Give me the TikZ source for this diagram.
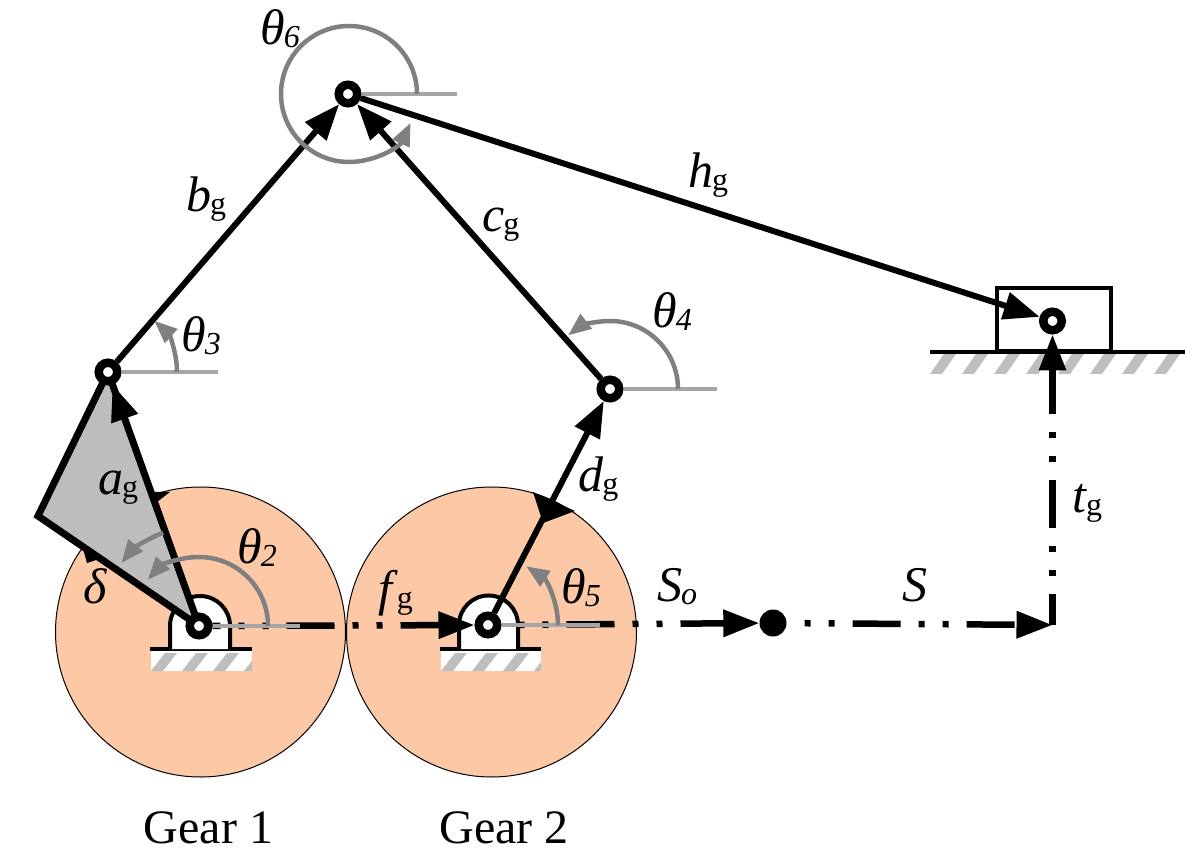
\documentclass[tikz,border=0pt]{standalone}
\usepackage{fontspec}
\setmainfont{Liberation Serif}
\usetikzlibrary{arrows.meta}
\definecolor{gearfill}{RGB}{252,200,166}
\definecolor{plategray}{RGB}{189,189,189}
\definecolor{arcgray}{RGB}{128,128,128}
\definecolor{refgray}{RGB}{166,166,166}
\definecolor{hatchgray}{RGB}{190,190,190}
\newcommand{\sublabel}[2]{\textit{#1}\kern-1pt\raisebox{-3pt}{\fontsize{32}{32}\selectfont #2}}
\newcommand{\hatching}[5]{%
  \begin{scope}
    \clip (#1,#3) rectangle (#2,#4);
    \foreach \k in {0,...,8}
      \fill[hatchgray] ({#1+\k*#5},#3) -- ++(12,0) -- ++(14,#4-#3) -- ++(-12,0) -- cycle;
  \end{scope}}
\tikzset{
  gear/.style={circle, draw=black, line width=1pt, fill=gearfill, minimum size=290pt, inner sep=0pt},
  joint/.style={circle, draw=black, fill=white, line width=8.5pt, minimum size=18.5pt, inner sep=0pt},
  link/.style={line width=6pt, -{Triangle[length=36pt,width=27pt]}},
  chain/.style={line width=6.5pt, dash pattern=on 48pt off 18pt on 6pt off 18pt on 6pt off 18pt, -{Triangle[length=36pt,width=26pt]}},
  refline/.style={draw=refgray, line width=3.5pt},
  anglearc/.style={draw=arcgray, line width=4.5pt, -{Triangle[length=23pt,width=18pt]}},
  lbl/.style={anchor=base west, inner sep=0pt, font=\fontsize{50}{54}\selectfont},
  gearlbl/.style={anchor=base, inner sep=0pt, font=\fontsize{48}{52}\selectfont}
}
\begin{document}
\begin{tikzpicture}[x=1pt,y=1pt]
    \useasboundingbox (0,0) rectangle (1185,852);

    % Gears
    \node[gear] (gear1) at (200.5,220) {};
    \node[gear] (gear2) at (491.5,220) {};

    % Ground under the pivots
    \fill[white] (151,181) rectangle (252,202);
    \hatching{151}{252}{181}{199}{31}
    \fill[white] (441,181) rectangle (541,202);
    \hatching{441}{541}{181}{199}{31}
    \draw[line width=3.5pt] (150,203) -- (252,203);
    \draw[line width=3.5pt] (440,203) -- (541,203);

    % Pivots
    \draw[fill=white, line width=4pt] (170,203) -- (170,226) arc (180:0:30) -- (230,203);
    \draw[fill=white, line width=4pt] (459,203) -- (459,227) arc (180:0:29.5) -- (518,203);

    % Ground and slider on the right
    \hatching{930}{1185}{478}{498}{32}
    \draw[line width=3.5pt] (930,500) -- (1185,500);
    \draw[line width=3.5pt] (997,501) rectangle (1111,564);

    % Arrowheads half hidden on the links
    \fill (150,360) -- (170,360) -- (157,350) -- cycle;
    \fill (82,307) -- (102,294) -- (87,289) -- cycle;
    \fill (533,360) -- (575,341) -- (543,329) -- cycle;

    % Plate of gear 1
    \coordinate (p2) at (199,226);
    \coordinate (pa) at (108,480);
    \coordinate (pd) at (38,336);
    \draw[fill=plategray, line width=7pt, line join=miter] (p2) -- (pa) -- (pd) -- cycle;

    % Joints
    \node[joint] (O2) at (p2) {};
    \node[joint] (A) at (pa) {};
    \node[joint] (B) at (348,758) {};
    \node[joint] (C) at (610,463) {};
    \node[joint] (O4) at (488,227) {};
    \node[joint] (P) at (1052.5,531) {};
    \node[circle, fill=black, minimum size=27pt, inner sep=0pt] (So) at (773,229) {};
    \coordinate (corner) at (1052.5,227);

    % Links
    \draw[link] (O2) -- (A);
    \draw[link] (A) -- (B);
    \draw[link] (O4) -- (C);
    \draw[link] (C) -- (B);
    \draw[link] (B) -- (P);

    % Dash-dot chain
    \draw[chain, dash phase=40pt] (O2) -- (O4);
    \draw[chain, dash phase=49pt] (O4) -- (So);
    \draw[chain, dash phase=48pt] (So) -- (corner);
    \draw[chain, dash phase=17pt] (corner) -- (P);

    % Reference lines
    \coordinate (refO2) at (300,226);
    \coordinate (refA) at (218,480);
    \coordinate (refB) at (457,758);
    \coordinate (refC) at (717,463);
    \coordinate (refO4) at (600,227);
    \draw[refline] (O2) -- (refO2);
    \draw[refline] (A) -- (refA);
    \draw[refline] (B) -- (refB);
    \draw[refline] (C) -- (refC);
    \draw[refline] (O4) -- (refO4);

    % Angles
    \draw[anglearc] (p2) ++(0:69) arc (0:138:69);
    \draw[anglearc] (p2) ++(111:100) arc (111:141:100);
    \draw[anglearc] (pa) ++(0:69) arc (0:48:69);
    \draw[anglearc] (C.center) ++(0:68) arc (0:128:68);
    \draw[anglearc] (O4.center) ++(0:70) arc (0:57:70);
    \draw[anglearc] (B.center) ++(0:69) arc (0:335:68);

    % Labels
    \node[lbl] (th6) at (260,807) {\sublabel{θ}{\textit{6}}};
    \node[lbl] (lb) at (186,640) {\sublabel{b}{g}};
    \node[lbl] (lc) at (482,620) {\sublabel{c}{g}};
    \node[lbl] (lh) at (688,664) {\sublabel{h}{g}};
    \node[lbl] (th3) at (181,500) {\sublabel{θ}{\textit{3}}};
    \node[lbl] (th4) at (652,524) {\sublabel{θ}{\textit{4}}};
    \node[lbl] (la) at (98,357) {\sublabel{a}{g}};
    \node[lbl] (ld) at (578,360) {\sublabel{d}{g}};
    \node[lbl] (th2) at (237,289) {\sublabel{θ}{\textit{2}}};
    \node[lbl] (ldelta) at (83,249) {\textit{δ}};
    \node[lbl] (lf) at (378,247) {\sublabel{f}{g}};
    \node[lbl] (th5) at (561,249) {\sublabel{θ}{\textit{5}}};
    \node[lbl] (lSo) at (657,251) {\sublabel{S}{\textit{o}}};
    \node[lbl] (lS) at (902,251) {\textit{S}};
    \node[lbl] (lt) at (1072,340) {\sublabel{t}{g}};
    \node[gearlbl] (g1) at (208.5,9) {Gear 1};
    \node[gearlbl] (g2) at (504,9) {Gear 2};
\end{tikzpicture}
\end{document}
